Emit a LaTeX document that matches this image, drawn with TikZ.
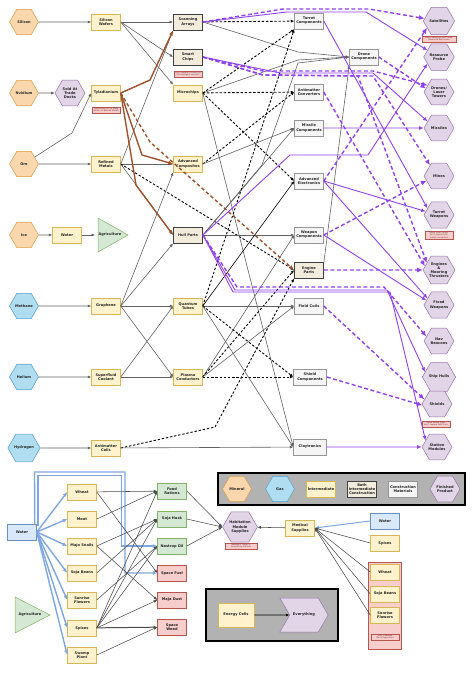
\documentclass[tikz,border=0pt]{standalone}
\usepackage{fontspec}
\setmainfont{DejaVu Sans}
\usetikzlibrary{shapes.geometric,shapes.symbols,arrows.meta}

\definecolor{minfill}{RGB}{250,215,172}
\definecolor{mindraw}{RGB}{215,155,80}
\definecolor{gasfill}{RGB}{177,221,240}
\definecolor{gasdraw}{RGB}{80,160,200}
\definecolor{intfill}{RGB}{255,242,204}
\definecolor{intdraw}{RGB}{214,182,86}
\definecolor{bothfill}{RGB}{242,236,220}
\definecolor{confill}{RGB}{245,245,245}
\definecolor{condraw}{RGB}{150,150,150}
\definecolor{finfill}{RGB}{225,213,231}
\definecolor{findraw}{RGB}{150,115,166}
\definecolor{notefill}{RGB}{248,206,204}
\definecolor{notedraw}{RGB}{184,84,80}
\definecolor{grnfill}{RGB}{213,232,212}
\definecolor{grndraw}{RGB}{130,179,102}
\definecolor{bluefill}{RGB}{218,232,252}
\definecolor{bluedraw}{RGB}{108,142,191}
\definecolor{prodline}{RGB}{145,65,240}
\definecolor{teladi}{RGB}{160,82,45}
\definecolor{wline}{RGB}{126,166,224}
\definecolor{legfill}{RGB}{178,178,178}

\tikzset{
	>={Latex[length=3.5pt,width=3pt]},
	every node/.style={font=\fontsize{3.6}{4.1}\selectfont\bfseries, align=center, text=black!85},
	box/.style={rectangle, minimum width=29pt, minimum height=16pt, inner sep=0.5pt, line width=0.5pt},
	inter/.style={box, fill=intfill, draw=intdraw},
	both/.style={box, fill=bothfill, draw=black!75, line width=0.9pt},
	constr/.style={box, fill=confill, draw=condraw},
	grn/.style={box, fill=grnfill, draw=grndraw},
	drug/.style={box, fill=notefill, draw=notedraw},
	blu/.style={box, fill=bluefill, draw=bluedraw},
	hex/.style={regular polygon, regular polygon sides=6, minimum size=29pt, inner sep=0pt, line width=0.5pt},
	mineral/.style={hex, fill=minfill, draw=mindraw},
	gas/.style={hex, fill=gasfill, draw=gasdraw},
	final/.style={hex, fill=finfill, draw=findraw, minimum size=30pt},
	note/.style={rectangle, fill=notefill, draw=notedraw, line width=0.4pt, font=\fontsize{2}{2.3}\selectfont, text=notedraw!60!black, text width=27pt, inner sep=0.8pt},
	tri/.style={fill=grnfill, draw=grndraw, line width=0.5pt},
	frame/.style={fill=legfill, draw=black, line width=1.6pt},
	feed/.style={->, draw=black!62, line width=0.6pt},
	opt/.style={->, draw=black, line width=0.9pt, dash pattern=on 2.4pt off 1.8pt},
	tel/.style={-{Latex[length=5pt,width=4pt]}, draw=teladi, line width=1.4pt},
	teld/.style={tel, dash pattern=on 3.5pt off 2.5pt},
	prod/.style={-{Latex[length=4.5pt,width=4pt]}, draw=prodline, line width=0.9pt},
	prodd/.style={-{Latex[length=5.5pt,width=5pt]}, draw=prodline, line width=1.4pt, dash pattern=on 4pt off 2.5pt},
	wat/.style={-{Latex[length=4.5pt,width=4pt]}, draw=wline, line width=1.4pt},
	food/.style={->, draw=black!70, line width=0.55pt},
}

\begin{document}
\begin{tikzpicture}[x=1pt,y=-1pt]
	\useasboundingbox (0,0) rectangle (474,678);

	\node[mineral] (silicon) at (24,22) {Silicon};
	\node[mineral] (nvidium) at (24,93) {Nvidium};
	\node[mineral] (ore) at (24,164) {Ore};
	\node[mineral] (ice) at (24,235) {Ice};
	\node[gas] (methane) at (24,306) {Methane};
	\node[gas] (helium) at (24,377) {Helium};
	\node[gas] (hydrogen) at (24,448) {Hydrogen};

	\node[inter] (wafers) at (106,22) {Silicon\\Wafers};
	\node[final] (trade) at (70,93) {Sold At\\Trade\\Docks};
	\node[inter] (tyl) at (106,93) {Tyladianium};
	\node[note] (tylnote) at (106,110) {Tyladianium is the Trade version of Refined Metals};
	\node[inter] (refined) at (106,164) {Refined\\Metals};
	\node[inter] (water) at (67,235) {Water};
	\draw[tri] (98,218) -- (128,235) -- (98,252) -- cycle;
	\node (agri) at (110,235) {Agriculture};
	\node[inter] (graphene) at (106,306) {Graphene};
	\node[inter] (coolant) at (106,377) {Superfluid\\Coolant};
	\node[inter] (amcells) at (106,448) {Antimatter\\Cells};

	\node[both] (scan) at (188,22) {Scanning\\Arrays};
	\node[both] (smart) at (188,57) {Smart\\Chips};
	\node[note] (smartnote) at (188,74) {Only needed if producing the intelligent versions};
	\node[inter] (micro) at (188,93) {Microchips};
	\node[inter] (advcomp) at (188,164) {Advanced\\Composites};
	\node[both] (hull) at (188,235) {Hull Parts};
	\node[inter] (qtubes) at (188,306) {Quantum\\Tubes};
	\node[inter] (plasma) at (188,377) {Plasma\\Conductors};

	\node[constr] (turret) at (309,21) {Turret\\Components};
	\node[constr] (drone) at (364,57) {Drone\\Components};
	\node[constr] (amconv) at (309,92) {Antimatter\\Converters};
	\node[constr] (missilec) at (309,128) {Missile\\Components};
	\node[constr] (advelec) at (309,181) {Advanced\\Electronics};
	\node[constr] (weaponc) at (309,235) {Weapon\\Components};
	\node[both] (engine) at (309,270) {Engine\\Parts};
	\node[constr] (fcoils) at (309,306) {Field Coils};
	\node[constr, minimum width=33pt] (shieldc) at (310,377) {Shield\\Components};
	\node[constr, minimum width=33pt] (clay) at (310,447) {Claytronics};

	\node[final] (sat) at (439,21) {Satellites};
	\node[note, text width=33pt] (satnote) at (439,39) {Basic Satellites don't need Advanced Electronics};
	\node[final] (probe) at (439,57) {Resource\\Probe};
	\node[final] (drones) at (439,92) {Drones/\\Laser\\Towers};
	\node[final] (missiles) at (439,128) {Missiles};
	\node[final] (mines) at (439,176) {Mines};
	\node[final] (turretw) at (439,215) {Turret\\Weapons};
	\node[note] (turretnote) at (439,235) {Some laser turrets don't require Antimatter converters};
	\node[final] (engines) at (439,270) {Engines\\\&\\Mooring\\Thrusters};
	\node[final] (fixedw) at (439,305) {Fixed\\Weapons};
	\node[final] (nav) at (439,341) {Nav\\Beacons};
	\node[final] (hulls) at (439,377) {Ship Hulls};
	\node[final] (shields) at (437,404) {Shields};
	\node[note] (shieldnote) at (436,424) {Some Shield Types don't require Field Coils};
	\node[final] (station) at (437,447) {Station\\Modules};

	\draw[feed] (silicon) -- (wafers);
	\draw[feed] (nvidium) -- (trade);
	\draw[feed] (ore) -- (72,133) -- (tyl.west);
	\draw[feed] (ore) -- (refined);
	\draw[feed] (ice) -- (water);
	\draw[feed] (water) -- (agri);
	\draw[feed] (methane) -- (graphene);
	\draw[feed] (helium) -- (coolant);
	\draw[feed] (hydrogen) -- (amcells);

	\draw[feed] (wafers.east) -- (scan.west);
	\draw[feed] (wafers.east) -- (smart.west);
	\draw[feed] (wafers.east) -- (micro.north west);
	\draw[feed] (refined.east) -- (scan.south west);
	\draw[feed] (refined.east) -- (advcomp.west);
	\draw[feed] (refined.east) -- (hull.west);
	\draw[opt] (refined.east) -- (engine.west);
	\draw[tel] (tyl.east) -- (150,80) -- (scan.south west);
	\draw[tel] (tyl.east) -- (142,155) -- (advcomp.west);
	\draw[tel] (tyl.east) -- (136,185) -- (hull.west);
	\draw[teld] (tyl.east) -- (150,142) -- (engine.west);
	\draw[feed] (graphene.east) -- (advcomp.south west);
	\draw[feed] (graphene.east) -- (hull.south west);
	\draw[feed] (graphene) -- (qtubes);
	\draw[feed] (graphene.east) -- (plasma.west);
	\draw[feed] (coolant.east) -- (qtubes.west);
	\draw[feed] (coolant) -- (plasma);

	\draw[opt] (scan) -- (turret);
	\draw[feed] (scan.east) -- (298,52) -- (drone.west);
	\draw[feed] (micro.east) -- (298,60) -- (drone.west);
	\draw[opt] (micro.east) -- (turret.south west);
	\draw[opt] (micro) -- (amconv);
	\draw[opt] (micro.east) -- (advelec.west);
	\draw[feed] (micro.east) -- (clay.west);
	\draw[opt] (advcomp.east) -- (amconv.west);
	\draw[feed] (advcomp.east) -- (missilec.west);
	\draw[feed] (hull.east) -- (missilec.west);
	\draw[feed] (hull) -- (weaponc);
	\draw[feed] (hull.east) -- (262,165) -- (298,63) -- (drone.west);
	\draw[feed] (plasma.east) -- (weaponc.west);
	\draw[->, draw=black, line width=0.6pt] (qtubes.east) -- (advelec.west);
	\draw[opt] (qtubes.east) -- (turret.south west);
	\draw[opt] (plasma.east) -- (engine.west);
	\draw[opt] (amcells.east) -- (215,427) -- (engine.south west);
	\draw[feed] (qtubes) -- (fcoils);
	\draw[feed] (plasma.east) -- (fcoils.west);
	\draw[opt] (qtubes.east) -- (shieldc.west);
	\draw[opt] (plasma) -- (shieldc);
	\draw[feed] (qtubes.east) -- (clay.west);
	\draw[feed] (amcells) -- (clay);
	\draw[feed] (engine.north east) -- (drone.south west);

	\draw[prodd] (scan.east) -- (283,9) -- (369,9) -- (sat.170);
	\draw[prod] (scan.east) -- (287,12) -- (366,12) -- (probe.150);
	\draw[prodd] (smart.east) -- (263,71) -- (373,71) -- (drones.150);
	\draw[prod] (smart.east) -- (280,73) -- (373,73) -- (missiles.150);
	\draw[prodd] (smart.east) -- (263,75) -- (373,76) -- (mines.130);
	\draw[prodd] (smart.east) -- (263,75) -- (358,76) -- (engines.150);
	\draw[prod] (hull.east) -- (290,155) -- (368,155) -- (probe.210);
	\draw[prodd] (advelec.east) -- (sat.210);
	\draw[prod] (advelec.east) -- (turretw.165);
	\draw[prod] (advelec.east) -- (fixedw.150);
	\draw[prodd] (weaponc.east) -- (mines.200);
	\draw[prod] (weaponc.east) -- (fixedw.160);
	\draw[prod] (turret.east) -- (turretw.150);
	\draw[prodd] (drone.east) -- (drones.165);
	\draw[prodd] (amconv.east) -- (engines.165);
	\draw[prod] (missilec) -- (missiles);
	\draw[prodd] (engine) -- (engines);
	\draw[prodd] (fcoils.east) -- (shields.160);
	\draw[prodd] (shieldc.east) -- (shields.185);
	\draw[prod] (clay) -- (station);
	\draw[prodd] (hull.east) -- (237,287) -- (384,287) -- (nav.160);
	\draw[prod] (hull.east) -- (235,290) -- (387,290) -- (hulls.160);
	\draw[prod] (hull.east) -- (233,292) -- (390,292) -- (station.150);

	\node[blu] (bwater) at (22,532) {Water};
	\draw[tri] (15,597) -- (50,615) -- (15,633) -- cycle;
	\node (bagri) at (30,615) {Agriculture};
	\node[inter] (wheat) at (82,492) {Wheat};
	\node[inter] (meat) at (82,519) {Meat};
	\node[inter] (snails) at (82,546) {Maja Snails};
	\node[inter] (sojab) at (82,573) {Soja Beans};
	\node[inter] (sunrise) at (82,600) {Sunrise\\Flowers};
	\node[inter] (spices) at (82,628) {Spices};
	\node[inter] (swamp) at (82,655) {Swamp\\Plant};
	\node[grn] (rations) at (172,491) {Food\\Rations};
	\node[grn] (husk) at (172,519) {Soja Husk};
	\node[grn] (oil) at (172,546) {Nostrop Oil};
	\node[drug] (fuel) at (172,573) {Space Fuel};
	\node[drug] (dust) at (172,600) {Maja Dust};
	\node[drug] (weed) at (172,627) {Space\\Weed};
	\node[final, minimum size=32pt] (hms) at (240,527) {Habitation\\Module\\Supplies};
	\node[note, text width=30pt] (hmsnote) at (241,546) {Needed if Player is Completing Stations};
	\node[inter] (medical) at (300,528) {Medical\\Supplies};
	\node[blu] (mwater) at (385,521) {Water};
	\node[inter] (mspices) at (385,543) {Spices};
	\draw[fill=notefill, draw=notedraw, line width=0.5pt] (368,562) rectangle (401,649);
	\node[inter] (mwheat) at (385,572) {Wheat};
	\node[inter] (msoja) at (385,594) {Soja Beans};
	\node[inter] (msunrise) at (385,615) {Sunrise\\Flowers};
	\node[note, text width=27pt] (mnote) at (385,637) {Only 1 Needed\\Place Dependant};

	\foreach \n in {wheat,meat,snails,sojab,sunrise,spices,swamp}
		\draw[wat] (bwater.east) -- (\n.west);
	\draw[wat] ([xshift=-2pt]bwater.north east) -- (34.5,472) -- (125,472) -- (125,573) -- (fuel.west);
	\draw[wat] ([yshift=-2pt]bwater.north east) -| (38,475.5) -- (121.5,475.5) -- (121.5,546) -- (oil.west);
	\draw[food] (wheat) -- (rations);
	\draw[food] (wheat.east) -- (fuel.west);
	\draw[food] (meat.east) -- (rations.west);
	\draw[food] (snails.east) -- (husk.west);
	\draw[food] (snails.east) -- (dust.west);
	\draw[food] (sojab.east) -- (husk.west);
	\draw[food] (sunrise.east) -- (oil.west);
	\foreach \n in {rations,husk,oil,dust}
		\draw[food] (spices.east) -- (\n.west);
	\draw[food, line width=1pt] (spices) -- (weed);
	\draw[food] (swamp.east) -- (weed.west);
	\draw[food] (rations.east) -- (hms.180);
	\draw[food] (husk.east) -- (hms.180);
	\draw[food] (oil.east) -- (hms.180);
	\draw[food] (medical) -- (hms);
	\draw[wat, line width=1pt] (mwater.west) -- (medical.east);
	\draw[food] (mspices.west) -- (medical.east);
	\foreach \n in {mwheat,msoja,msunrise}
		\draw[food] (\n.west) -- (medical.east);

	\draw[frame] (218,473) rectangle (465,505);
	\node[mineral] (lmin) at (237,489) {Mineral};
	\node[gas] (lgas) at (280,489) {Gas};
	\node[inter] (lint) at (321,489) {Intermediate};
	\node[both] (lboth) at (362,489) {Both\\Intermediate\\Construction};
	\node[constr] (lcon) at (403,489) {Construction\\Materials};
	\node[final] (lfin) at (445,489) {Finished\\Product};

	\draw[frame] (206,589) rectangle (338,641);
	\node[inter, minimum width=36pt, minimum height=24pt] (energy) at (236,615) {Energy Cells};
	\node[signal, signal to=east, signal from=west, signal pointer angle=120, fill=finfill, draw=findraw, line width=0.5pt, minimum width=45pt, minimum height=34pt] (every) at (304,615) {Everything};
	\draw[->, line width=0.7pt] (energy) -- (every);
\end{tikzpicture}
\end{document}
